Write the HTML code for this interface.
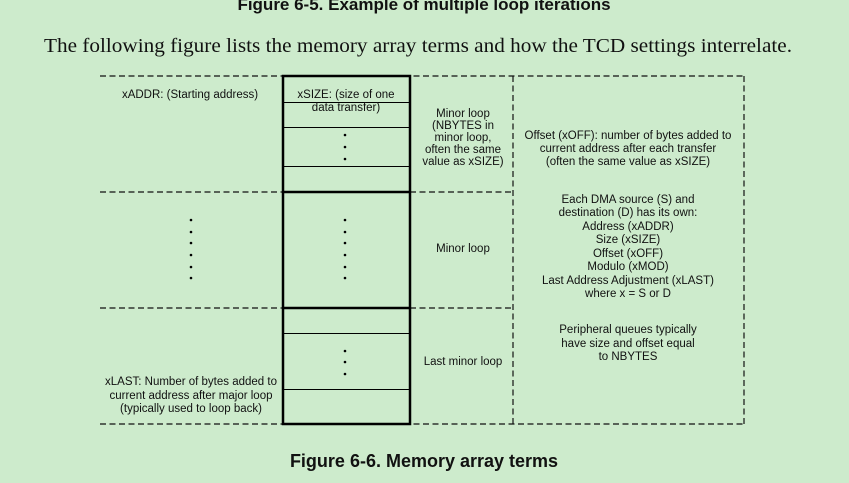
<!DOCTYPE html>
<html><head><style>
html,body{margin:0;padding:0;background:#cdebcc;}
svg{display:block;}
.s{font-family:"Liberation Sans",Arial,sans-serif;font-size:11.5px;fill:#111;}
</style></head><body>
<svg width="849" height="483" viewBox="0 0 849 483" xmlns="http://www.w3.org/2000/svg">
<rect width="849" height="483" fill="#cdebcc"/>
<text x="424" y="10" text-anchor="middle" font-family="Liberation Sans,Arial,sans-serif" font-weight="bold" font-size="17" fill="#111">Figure 6-5. Example of multiple loop iterations</text>
<text x="418" y="52" text-anchor="middle" font-family="Liberation Serif,serif" font-size="20" fill="#111" textLength="748" lengthAdjust="spacingAndGlyphs">The following figure lists the memory array terms and how the TCD settings interrelate.</text>
<g stroke="#111" stroke-width="1.2" stroke-dasharray="6,3.5" fill="none">
<line x1="100" y1="76" x2="744" y2="76"/>
<line x1="100" y1="424" x2="744" y2="424"/>
<line x1="744" y1="76" x2="744" y2="424"/>
<line x1="513" y1="76" x2="513" y2="424"/>
<line x1="100" y1="192" x2="283" y2="192"/>
<line x1="100" y1="308" x2="283" y2="308"/>
<line x1="410" y1="192" x2="513" y2="192"/>
<line x1="410" y1="308" x2="513" y2="308"/>
</g>
<rect x="283" y="76" width="127" height="348" fill="none" stroke="#000" stroke-width="2.5"/>
<g stroke="#000" stroke-width="2.5"><line x1="283" y1="192" x2="410" y2="192"/><line x1="283" y1="308" x2="410" y2="308"/></g>
<g stroke="#000" stroke-width="1"><line x1="283" y1="102.5" x2="410" y2="102.5"/><line x1="283" y1="127.5" x2="410" y2="127.5"/><line x1="283" y1="166.5" x2="410" y2="166.5"/><line x1="283" y1="333.5" x2="410" y2="333.5"/><line x1="283" y1="389.5" x2="410" y2="389.5"/></g>
<g fill="#000">
<circle cx="345" cy="135" r="1.3"/><circle cx="345" cy="147" r="1.3"/><circle cx="345" cy="159" r="1.3"/>
<circle cx="345" cy="220" r="1.3"/><circle cx="345" cy="232" r="1.3"/><circle cx="345" cy="243" r="1.3"/><circle cx="345" cy="255" r="1.3"/><circle cx="345" cy="267" r="1.3"/><circle cx="345" cy="278" r="1.3"/>
<circle cx="191" cy="220" r="1.3"/><circle cx="191" cy="232" r="1.3"/><circle cx="191" cy="243" r="1.3"/><circle cx="191" cy="255" r="1.3"/><circle cx="191" cy="267" r="1.3"/><circle cx="191" cy="278" r="1.3"/>
<circle cx="345" cy="351" r="1.3"/><circle cx="345" cy="362" r="1.3"/><circle cx="345" cy="374" r="1.3"/>
</g>
<g class="s" text-anchor="middle">
<text x="190" y="98">xADDR: (Starting address)</text>
<text x="346" y="98">xSIZE: (size of one</text>
<text x="346" y="111">data transfer)</text>
<text x="463" y="117">Minor loop</text>
<text x="463" y="129">(NBYTES in</text>
<text x="463" y="141">minor loop,</text>
<text x="463" y="153">often the same</text>
<text x="463" y="165">value as xSIZE)</text>
<text x="463" y="252">Minor loop</text>
<text x="463" y="365">Last minor loop</text>
<text x="191" y="385">xLAST: Number of bytes added to</text>
<text x="191" y="399">current address after major loop</text>
<text x="191" y="412">(typically used to loop back)</text>
<text x="628" y="139">Offset (xOFF): number of bytes added to</text>
<text x="628" y="152">current address after each transfer</text>
<text x="628" y="165">(often the same value as xSIZE)</text>
<text x="628" y="203">Each DMA source (S) and</text>
<text x="628" y="216">destination (D) has its own:</text>
<text x="628" y="230">Address (xADDR)</text>
<text x="628" y="243">Size (xSIZE)</text>
<text x="628" y="257">Offset (xOFF)</text>
<text x="628" y="270">Modulo (xMOD)</text>
<text x="628" y="284">Last Address Adjustment (xLAST)</text>
<text x="628" y="297">where x = S or D</text>
<text x="628" y="333">Peripheral queues typically</text>
<text x="628" y="347">have size and offset equal</text>
<text x="628" y="360">to NBYTES</text>
</g>
<text x="424" y="467" text-anchor="middle" font-family="Liberation Sans,Arial,sans-serif" font-weight="bold" font-size="18" fill="#111">Figure 6-6. Memory array terms</text>
</svg>
</body></html>
